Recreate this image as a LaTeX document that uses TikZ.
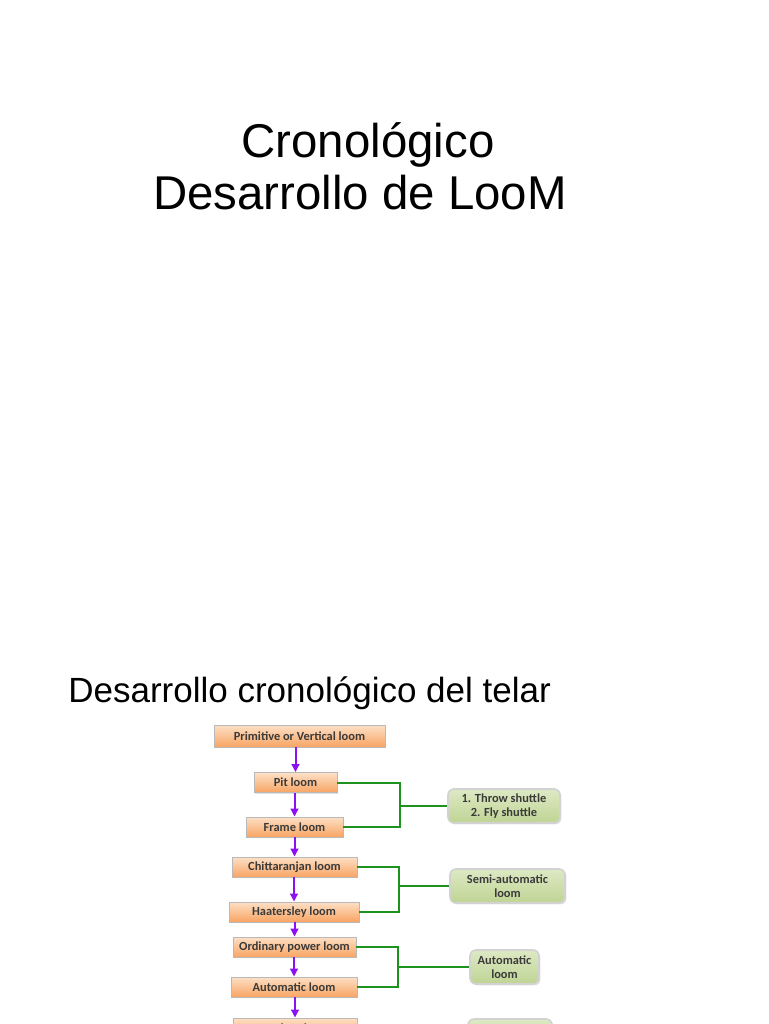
\documentclass[tikz,border=0pt]{standalone}
\usepackage{fontspec}
\setmainfont{Liberation Sans}
\newfontfamily\boxfont{Carlito}
\usetikzlibrary{arrows.meta,shadows}
\definecolor{loomorange}{HTML}{F8A462}
\definecolor{loomlight}{HTML}{FDE0C6}
\definecolor{typegreen}{HTML}{BFD494}
\definecolor{typelight}{HTML}{DDE9C4}
\definecolor{linkgreen}{HTML}{1E921E}
\definecolor{flowviolet}{HTML}{8A12F2}
\definecolor{boxtext}{HTML}{3A3A3A}

\begin{document}
\begin{tikzpicture}[x=0.5pt, y=-0.5pt
    , loom/.style = {rectangle,draw=gray!55,top color=loomlight,bottom color=loomorange,minimum height=10pt,inner sep=1pt,text=boxtext,font=\boxfont\bfseries\fontsize{6.2}{7}\selectfont,drop shadow={opacity=0.25,shadow xshift=0.7pt,shadow yshift=-0.7pt}}
    , type/.style = {rectangle,rounded corners=3pt,draw=gray!35,line width=0.8pt,top color=typelight,bottom color=typegreen,minimum height=17pt,inner sep=1pt,align=center,text=boxtext,font=\boxfont\bfseries\fontsize{6.2}{7.2}\selectfont,drop shadow={opacity=0.25,shadow xshift=0.7pt,shadow yshift=-0.7pt}}
    , flow/.style = {draw=flowviolet,line width=1pt,-{Triangle[width=3.8pt,length=4pt]}}
    , link/.style = {draw=linkgreen,line width=1pt}
]
\useasboundingbox (0,0) rectangle (768,1024);
\clip (0,0) rectangle (768,1024);
% titles
\node[anchor=base,font=\fontsize{23.7}{27}\selectfont] (title1) at (368,157) {Cronológico};
\node[anchor=base,font=\fontsize{23.7}{27}\selectfont] (title2) at (360,209) {Desarrollo de LooM};
\node[anchor=base west,inner sep=0pt,font=\fontsize{17.5}{20}\selectfont] (subtitle) at (68,702) {Desarrollo cronológico del telar};
% looms
\node[loom,minimum width=85.5pt,minimum height=11pt] (prim) at (299.5,736) {Primitive or Vertical loom};
\node[loom,minimum width=41.5pt] (pit) at (295.5,782.5) {Pit loom};
\node[loom,minimum width=48.5pt] (frame) at (294.5,827) {Frame loom};
\node[loom,minimum width=62.5pt] (chitta) at (294.5,867) {Chittaranjan loom};
\node[loom,minimum width=65pt] (haat) at (294,912) {Haatersley loom};
\node[loom,minimum width=61.5pt] (ordin) at (294.5,947) {Ordinary power loom};
\node[loom,minimum width=63pt] (auto) at (294,987) {Automatic loom};
\node[loom,minimum width=62pt] (modern) at (295,1028) {Modern loom};
\foreach \a/\b in {prim/pit, pit/frame, frame/chitta, chitta/haat, haat/ordin, ordin/auto, auto/modern}
    \draw[flow] (\a.south -| \b.north) -- (\b.north);
% types
\node[type,minimum width=56pt] (shuttle) at (504,806) {1. Throw shuttle\\2. Fly shuttle};
\node[type,minimum width=57.5pt] (semi) at (507.5,886) {Semi-automatic\\loom};
\node[type,minimum width=34.5pt] (autotype) at (504.5,967) {Automatic\\loom};
\node[type,minimum width=42pt] (lasttype) at (510,1036) {};
\coordinate (j1) at (400,806);
\coordinate (j2) at (399,886);
\coordinate (j3) at (398,967);
\draw[link] (pit.east) -| (j1) |- (frame.east);
\draw[link] (j1) -- (shuttle.west);
\draw[link] (chitta.east) -| (j2) |- (haat.east);
\draw[link] (j2) -- (semi.west);
\draw[link] (ordin.east) -| (j3) |- (auto.east);
\draw[link] (j3) -- (autotype.west);
\end{tikzpicture}
\end{document}
